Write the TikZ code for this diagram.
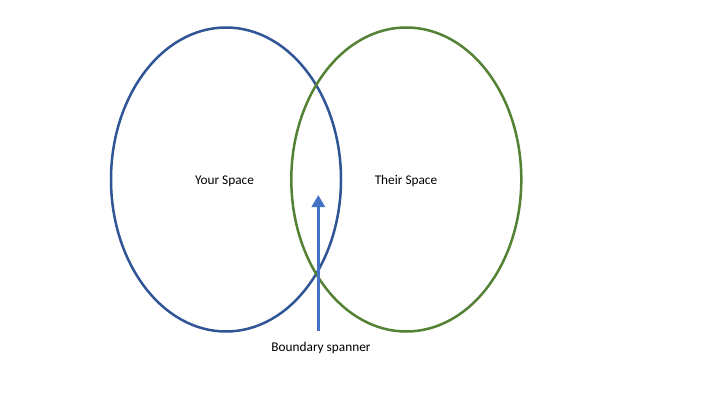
\documentclass[tikz,border=0pt]{standalone}
\usepackage{fontspec}
\setmainfont{Carlito}
\usetikzlibrary{arrows.meta}
\definecolor{bluering}{HTML}{2F5597}
\definecolor{greenring}{HTML}{548235}
\definecolor{arrowblue}{HTML}{4472C4}
\begin{document}
\begin{tikzpicture}[x=1pt,y=1pt,
  ring/.style={line width=2.5pt},
  lbl/.style={font=\fontsize{13.3}{16}\selectfont, anchor=base, inner sep=0pt}]
\useasboundingbox (0,0) rectangle (720,405);
\fill[white] (0,0) rectangle (720,405);
\draw[ring, bluering] (226,225.5) ellipse [x radius=115, y radius=152];
\draw[ring, greenring] (406.3,225.5) ellipse [x radius=115, y radius=152];
\node[lbl] (your) at (224.5,221) {Your Space};
\node[lbl] (their) at (406,221) {Their Space};
\node[lbl] (bs) at (321,53.3) {Boundary spanner};
\coordinate (abot) at (318.3,74.3);
\coordinate (atop) at (318.3,210);
\draw[arrowblue, line width=3.3pt, -{Triangle[width=13pt,length=12pt]}] (abot) -- (atop);
\end{tikzpicture}
\end{document}
